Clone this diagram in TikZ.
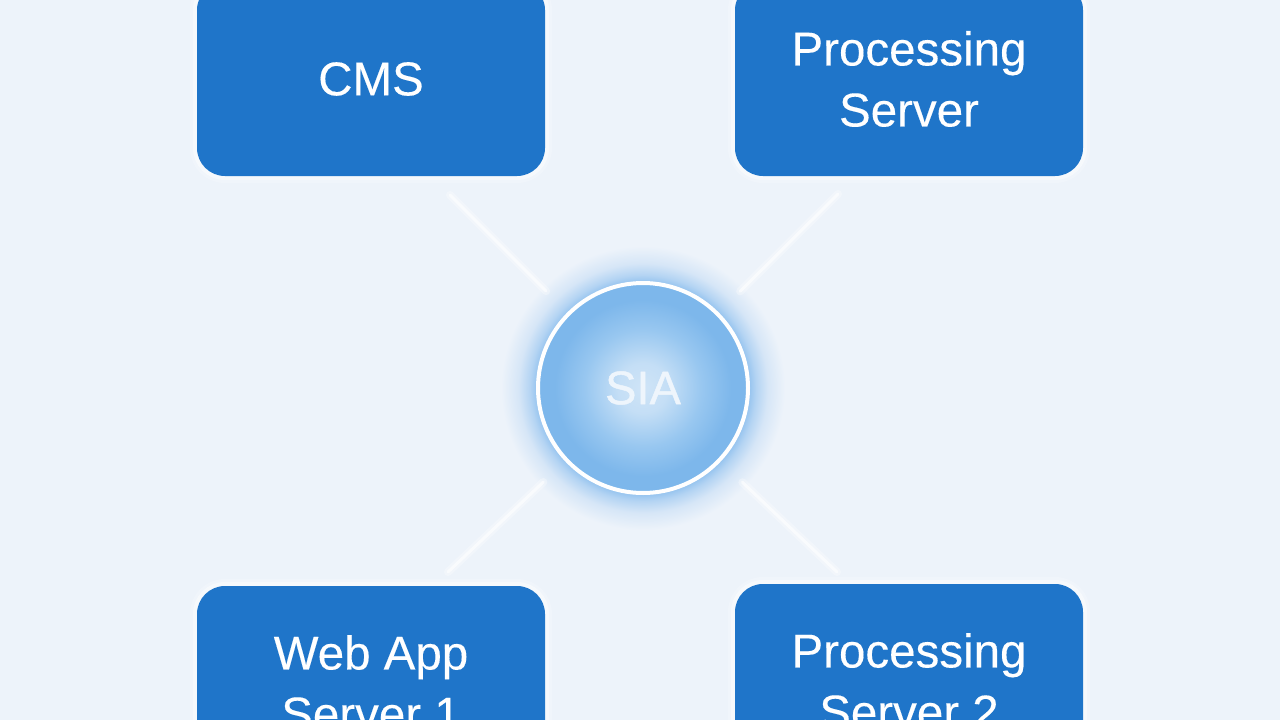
\documentclass[tikz,border=0pt]{standalone}
\usepackage{fontspec}
\setmainfont{Liberation Sans}
\newfontfamily\hubfont[FakeBold=1]{Liberation Sans}
\newfontfamily\boxfont[FakeBold=0.25]{Liberation Sans}
\definecolor{pagebg}{HTML}{EDF3FA}
\definecolor{boxblue}{HTML}{1F75C9}
\definecolor{siaedge}{HTML}{7DB7EB}
\definecolor{siamid}{HTML}{98C7F0}
\definecolor{siacore}{HTML}{CFE4F7}
\definecolor{glowa}{HTML}{8FC0EE}
\definecolor{glowb}{HTML}{B4D4F3}
\definecolor{glowc}{HTML}{D6E6F7}
\definecolor{siatext}{HTML}{EEF5FC}
\pgfdeclareradialshading{siafill}{\pgfpointorigin}{
  color(0bp)=(siacore);
  color(6bp)=(siacore!80!siamid);
  color(14bp)=(siamid);
  color(21bp)=(siaedge);
  color(50bp)=(siaedge)}
\pgfdeclareradialshading{siaglow}{\pgfpointorigin}{
  color(0bp)=(glowa);
  color(18bp)=(glowa);
  color(19.5bp)=(glowb);
  color(21.5bp)=(glowc);
  color(24.5bp)=(pagebg);
  color(50bp)=(pagebg)}
\tikzset{
  serverbox/.style={
    draw=none, fill=boxblue, text=white, rounded corners=28pt,
    minimum width=348pt, minimum height=194pt, inner sep=0pt, align=center,
    font=\boxfont\fontsize{47.5}{61}\selectfont,
    preaction={draw=white, line width=14pt, draw opacity=.22},
    preaction={draw=white, line width=8pt, draw opacity=.45}},
  hubnode/.style={
    circle, draw=white, line width=4pt, shading=siafill,
    minimum size=210pt, inner sep=0pt, text=siatext,
    font=\hubfont\fontsize{47}{56}\selectfont},
  linkhalo/.style={draw=white, line width=8pt, draw opacity=.3, line cap=round},
  linkcore/.style={draw=white, line width=3pt, draw opacity=.6, line cap=round},
}
\begin{document}
\begin{tikzpicture}[x=1pt,y=-1pt]
  \path[use as bounding box, clip] (0,0) rectangle (1280,720);
  \fill[pagebg] (0,0) rectangle (1280,720);
  \coordinate (hubc) at (643,388);
  \shade[shading=siaglow] (hubc) circle (145pt);
  \node[serverbox] (cms)  at (371,79)  {CMS};
  \node[serverbox] (proc) at (909,79)  {Processing\\Server};
  \node[serverbox] (web)  at (371,683) {Web App\\Server 1};
  \node[serverbox] (proc2) at (909,681) {Processing\\Server 2};
  \node[hubnode] (sia) at (hubc) {SIA};
  \coordinate (endcms) at (450,195);
  \coordinate (endproc) at (838,194);
  \coordinate (endweb) at (448,572);
  \coordinate (endproctwo) at (837,572);
  \foreach \e in {endcms,endproc,endweb,endproctwo}{
    \draw[linkhalo, shorten >=137pt] (\e) -- (hubc);
    \draw[linkcore, shorten >=137pt] (\e) -- (hubc);
  }
\end{tikzpicture}
\end{document}
